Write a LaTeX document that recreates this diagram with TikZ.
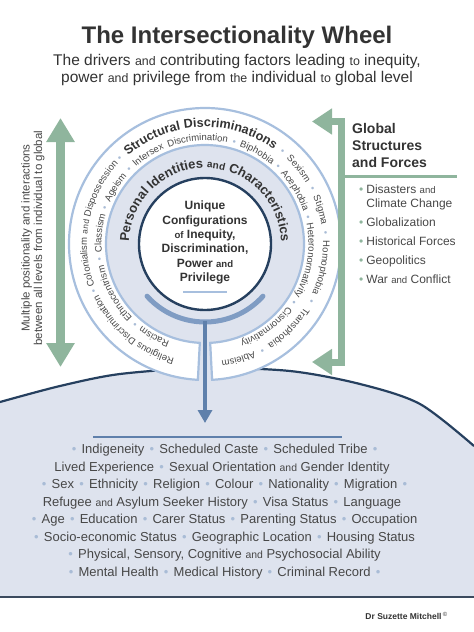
\documentclass[tikz,border=0pt]{standalone}
\usepackage{graphicx}
\usepackage{fontspec}
\setmainfont{Liberation Sans}
\usetikzlibrary{arrows.meta,decorations.text}

\definecolor{darktxt}{HTML}{333333}
\definecolor{greytxt}{HTML}{474747}
\definecolor{bandc}{HTML}{DEE3EE}
\definecolor{ringline}{HTML}{A7BFDE}
\definecolor{navy}{HTML}{26405F}
\definecolor{steel}{HTML}{5F80AB}
\definecolor{cupc}{HTML}{7F9CC3}
\definecolor{sage}{HTML}{8FB59D}
\definecolor{rulec}{HTML}{3B4A5E}
\definecolor{bulc}{HTML}{A9BCD6}

% small joining words
\newcommand\sm[1]{\scalebox{0.8}{#1}}
\newcommand\bul{\hspace{0.4em}\textcolor{bulc}{•}\hspace{0.4em}}
\newcommand\lb{\textcolor{sage}{•}\hspace{3pt}}
% fonts for the ring texts
\newcommand\ringf{\normalfont\fontsize{9.5}{11}\selectfont\color{greytxt}}
\newcommand\ringand{\normalfont\fontsize{8.3}{9}\selectfont\color{greytxt}}
\newcommand\ringdot{\normalfont\fontsize{9.5}{11}\selectfont\color{bulc}}
\newcommand\ringbold{\normalfont\bfseries\fontsize{12.6}{15}\selectfont\color{darktxt}}
\newcommand\pif{\normalfont\bfseries\fontsize{13}{15}\selectfont\color{darktxt}}
\newcommand\pifs{\normalfont\bfseries\fontsize{10}{11}\selectfont\color{darktxt}}

\tikzset{
  garrow/.style={draw=sage, line join=miter},
  gtip/.tip={Triangle[width=27pt,length=24pt]},
  btip/.tip={Triangle[width=14pt,length=13pt]},
  label/.style={inner sep=0pt, align=center},
  ringtext/.style={decorate, decoration={text along path, text align={fit to path stretching spaces}, text={#1}}},
}

\begin{document}
\begin{tikzpicture}[x=1pt, y=1pt]
  \useasboundingbox (0,0) rectangle (474,-632);
  \coordinate (c) at (205,-244);

  % ground
  \fill[bandc] plot[smooth] coordinates {(0,-402) (60,-386) (120,-374) (205,-368) (290,-371) (360,-384) (420,-404) (474,-446)}
    -- (474,-597) -- (0,-597) -- cycle;
  \draw[navy, line width=2.2pt] plot[smooth] coordinates {(0,-402) (60,-386) (120,-374) (205,-368) (290,-371) (360,-384) (420,-404) (474,-446)};
  \draw[rulec, line width=2pt] (0,-597) -- (474,-597);

  % wheel
  \fill[bandc] (c) circle[radius=136];
  \filldraw[fill=white, draw=ringline, line width=2.2pt]
    (c) ++(267:99) arc[start angle=267, end angle=-87, radius=99]
    -- ++(-87:37) arc[start angle=-87, end angle=267, radius=136] -- cycle;
  \filldraw[fill=white, draw=navy, line width=2.4pt] (c) circle[radius=66];
  \draw[cupc, line width=5pt, line cap=round] (c) ++(222:78) arc[start angle=222, end angle=318, radius=78];
  \draw[ringline, line width=1.2pt] (183,-292) -- (227,-292);

  \coordinate (cupb) at (205,-321);
  \coordinate (tip) at (205,-423);
  \draw[steel, line width=4pt, -btip] (cupb) -- (tip);
  \draw[steel, line width=1.4pt] (93,-437) -- (342,-437);

  % outer ring: structural discriminations
  \path[ringtext={|\ringf|Religious Discrimination |\ringdot|•|\ringf| Colonialism |\ringand|and|\ringf| Dispossession |\ringdot|•}]
    (c) ++(255:118) arc[start angle=255, end angle=134, radius=118];
  \path[decorate, decoration={text along path, text align=center,
    text={|\ringbold|Structural Discriminations}}]
    (c) ++(138:117) arc[start angle=138, end angle=47, radius=117];
  \path[ringtext={|\ringdot|•|\ringf| Sexism |\ringdot|•|\ringf| Stigma |\ringdot|•|\ringf| Homophobia |\ringdot|•|\ringf| Transphobia |\ringdot|•|\ringf| Ableism}]
    (c) ++(51:118) arc[start angle=51, end angle=-82, radius=118];
  \path[ringtext={|\ringf|Racism |\ringdot|•|\ringf| Ethnocentrism |\ringdot|•|\ringf| Classism |\ringdot|•|\ringf| Ageism |\ringdot|•|\ringf| Intersex Discrimination |\ringdot|•|\ringf| Biphobia |\ringdot|•|\ringf| Acephobia |\ringdot|•|\ringf| Heteronormativity |\ringdot|•|\ringf| Cisnormativity}]
    (c) ++(250:103.5) arc[start angle=250, end angle=-70, radius=103.5];
  % band: personal identities
  \path[decorate, decoration={text along path, text align=center,
    text={|\pif|Personal Identities |\pifs|and|\pif| Characteristics}}]
    (c) ++(190:76) arc[start angle=190, end angle=-10, radius=76];

  \node[label, anchor=north, font=\bfseries\fontsize{12}{14.3}\selectfont, text=darktxt] (core) at (205,-201)
    {Unique\\Configurations\\\sm{of} Inequity,\\Discrimination,\\Power \sm{and}\\Privilege};

  % side arrows
  \coordinate (lt) at (60.5,-118);
  \coordinate (lbot) at (60.5,-367);
  \draw[garrow, line width=9pt, gtip-gtip] (lt) -- (lbot);
  \coordinate (rt) at (312,-121.5);
  \coordinate (rbot) at (312,-362);
  \draw[garrow, line width=7pt, {Triangle[width=25pt,length=20pt]}-{Triangle[width=25pt,length=20pt]}]
    (rbot) -- (341.5,-362) -- (341.5,-121.5) -- (rt);
  \coordinate (hl) at (341.5,-176);
  \coordinate (hr) at (457,-176);
  \draw[garrow, line width=3pt] (hl) -- (hr);

  % texts
  \node[label, anchor=base, font=\bfseries\fontsize{24}{28}\selectfont, text=darktxt] (title) at (237,-43)
    {The Intersectionality Wheel};
  \node[label, anchor=north, font=\fontsize{15.5}{17}\selectfont, text=darktxt] (sub) at (237,-54)
    {The drivers \sm{and} contributing factors leading \sm{to} inequity,\\power \sm{and} privilege from \sm{the} individual \sm{to} global level};
  \node[label, rotate=90, font=\fontsize{11.5}{12.5}\selectfont, text=greytxt] (side) at (33,-238)
    {Multiple positionality and interactions\\between all levels from individual to global};
  \node[label, anchor=north west, align=left, font=\bfseries\fontsize{14}{17}\selectfont, text=darktxt] (gsf) at (352,-123)
    {Global\\Structures\\and Forces};
  \node[label, anchor=north west, align=left, font=\fontsize{12}{14.5}\selectfont, text=greytxt] (forces) at (359,-184.5)
    {\lb Disasters \sm{and}\\
     \phantom{\lb}Climate Change\\[4.5pt]
     \lb Globalization\\[4.5pt]
     \lb Historical Forces\\[4.5pt]
     \lb Geopolitics\\[4.5pt]
     \lb War \sm{and} Conflict};
  \node[label, anchor=north, font=\fontsize{13}{17.5}\selectfont, text=greytxt] (ids) at (222,-444)
    {\bul Indigeneity\bul Scheduled Caste\bul Scheduled Tribe\bul\\
     Lived Experience\bul Sexual Orientation \sm{and} Gender Identity\\
     \bul Sex\bul Ethnicity\bul Religion\bul Colour\bul Nationality\bul Migration\bul\\
     Refugee \sm{and} Asylum Seeker History\bul Visa Status\bul Language\\
     \bul Age\bul Education\bul Carer Status\bul Parenting Status\bul Occupation\\
     \bul Socio-economic Status\bul Geographic Location\bul Housing Status\\
     \bul Physical, Sensory, Cognitive \sm{and} Psychosocial Ability\\
     \bul Mental Health\bul Medical History\bul Criminal Record\bul};
  \node[label, anchor=base east, font=\bfseries\fontsize{8.5}{10}\selectfont, text=darktxt] (author) at (448,-619)
    {Dr Suzette Mitchell\,\textsuperscript{\normalfont ©}};
\end{tikzpicture}
\end{document}
